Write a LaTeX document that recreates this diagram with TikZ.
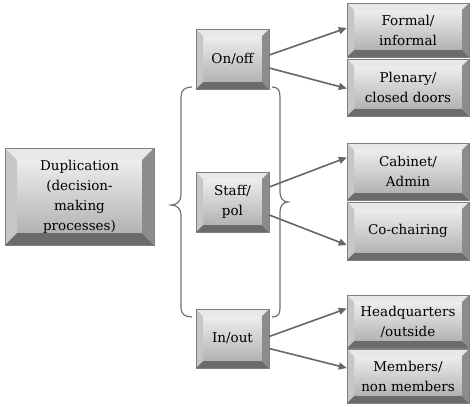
\documentclass[tikz,border=0pt]{standalone}
\usepackage{fontspec}
\setmainfont{DejaVu Serif}
\usetikzlibrary{arrows.meta}

\tikzset{
  bevel/.store in=\bev, bevel=7pt,
  btn/.style={draw=black!50, line width=0.5pt, align=center, inner sep=0pt,
    text=black, font=\fontsize{13.5}{20}\selectfont,
    path picture={
      \coordinate (nw) at (path picture bounding box.north west);
      \coordinate (ne) at (path picture bounding box.north east);
      \coordinate (sw) at (path picture bounding box.south west);
      \coordinate (se) at (path picture bounding box.south east);
      \shade [top color=black!7, bottom color=black!30] ([shift={(\bev,-\bev)}]nw) rectangle ([shift={(-\bev,\bev)}]se);
      \fill [black!9] (nw) -- (ne) -- ([shift={(-\bev,-\bev)}]ne) -- ([shift={(\bev,-\bev)}]nw) -- cycle;
      \fill [black!22] (nw) -- (sw) -- ([shift={(\bev,\bev)}]sw) -- ([shift={(\bev,-\bev)}]nw) -- cycle;
      \fill [black!45] (ne) -- (se) -- ([shift={(-\bev,\bev)}]se) -- ([shift={(-\bev,-\bev)}]ne) -- cycle;
      \fill [black!58] (sw) -- (se) -- ([shift={(-\bev,\bev)}]se) -- ([shift={(\bev,\bev)}]sw) -- cycle;
    }},
  arr/.style={draw=black!60, line width=1.6pt, -{Triangle[length=8pt,width=7pt]}},
  brace/.style={draw=black!55, line width=1.2pt},
}

\begin{document}
\begin{tikzpicture}[x=1pt,y=-1pt]
  \useasboundingbox (0,0) rectangle (474,407);
  % left box
  \node [btn, bevel=12pt, minimum width=149pt, minimum height=97pt] (dup) at (79.5,196.5) {Duplication\\(decision-\\making\\processes)};
  % middle column
  \node [btn, minimum width=73pt, minimum height=60pt] (onoff) at (232.5,59) {On/off};
  \node [btn, minimum width=73pt, minimum height=60pt] (staff) at (232.5,202) {Staff/\\pol};
  \node [btn, minimum width=73pt, minimum height=59pt] (inout) at (232.5,338.5) {In/out};
  % right column
  \node [btn, minimum width=122pt, minimum height=54pt] (formal) at (408,30) {Formal/\\informal};
  \node [btn, minimum width=122pt, minimum height=57pt] (plenary) at (408,87.5) {Plenary/\\closed doors};
  \node [btn, minimum width=122pt, minimum height=57pt] (cabinet) at (408,171.5) {Cabinet/\\Admin};
  \node [btn, minimum width=122pt, minimum height=58pt] (cochair) at (408,231) {Co-chairing};
  \node [btn, minimum width=122pt, minimum height=53pt] (hq) at (408,321.5) {Headquarters\\/outside};
  \node [btn, minimum width=122pt, minimum height=54pt] (members) at (408,376) {Members/\\non members};
  % braces
  \draw [brace] (192,87) .. controls (185,87) and (181,90) .. (181,97) -- (181,195) .. controls (181,201) and (177,205) .. (171,205) .. controls (177,205) and (181,209) .. (181,215) -- (181,308) .. controls (181,314) and (185,317) .. (192,317);
  \draw [brace] (272,87) .. controls (278,87) and (280,90) .. (280,97) -- (280,192) .. controls (280,198) and (283,202) .. (288,202) .. controls (283,202) and (280,206) .. (280,212) -- (280,308) .. controls (280,314) and (278,317) .. (272,317);
  % arrows
  \draw [arr] ([yshift=4pt]onoff.east) -- ([yshift=2pt]formal.west);
  \draw [arr] ([yshift=-9pt]onoff.east) -- ([yshift=-1pt]plenary.west);
  \draw [arr] ([yshift=15pt]staff.east) -- ([yshift=14pt]cabinet.west);
  \draw [arr] ([yshift=-13pt]staff.east) -- ([yshift=-14pt]cochair.west);
  \draw [arr] ([yshift=2pt]inout.east) -- ([yshift=13pt]hq.west);
  \draw [arr] ([yshift=-10pt]inout.east) -- ([yshift=8pt]members.west);
\end{tikzpicture}
\end{document}
